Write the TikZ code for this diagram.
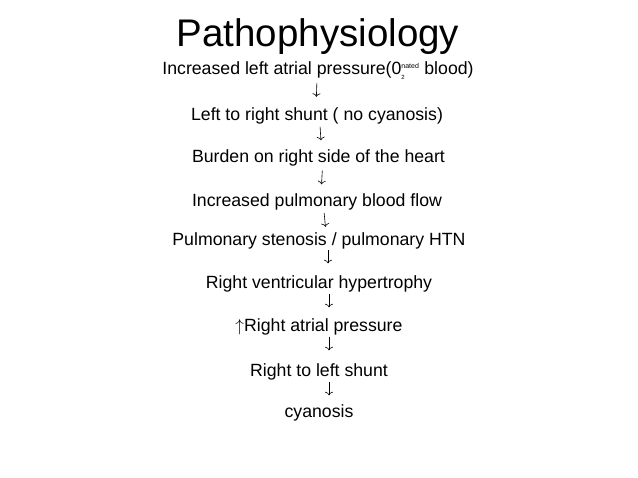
\documentclass[tikz,border=0pt]{standalone}
\usepackage{fontspec}
\setmainfont{Liberation Sans}
\usetikzlibrary{arrows.meta}
\begin{document}
\begin{tikzpicture}[x=1pt,y=1pt,
  line/.style={anchor=base, inner sep=0pt, font=\fontsize{17.7}{20}\selectfont, text height=13pt, text depth=4pt},
  titletext/.style={anchor=base, inner sep=0pt, font=\fontsize{38.5}{40}\selectfont},
  arr/.style={draw=black, line width=0.6pt, -{To[length=3.5pt,width=8pt]}}]
\useasboundingbox (0,0) rectangle (638,-478);
\node[titletext] (title) at (318,-46.5) {Pathophysiology};
\node[line] (l1) at (318,-75) {Increased left atrial pressure(0$_{\mbox{\fontsize{6}{6}\selectfont 2}}^{\mbox{\fontsize{7}{7}\selectfont nated}}$ blood)};
\node[line] (l2) at (317,-121) {Left to right shunt ( no cyanosis)};
\node[line] (l3) at (318.5,-163) {Burden on right side of the heart};
\node[line] (l4) at (317,-207) {Increased pulmonary blood flow};
\node[line] (l5) at (319,-246) {Pulmonary stenosis / pulmonary HTN};
\node[line] (l6) at (319,-289) {Right ventricular hypertrophy};
\node[line] (l7) at (319,-332) {$\uparrow$Right atrial pressure};
\node[line] (l8) at (319,-377) {Right to left shunt};
\node[line] (l9) at (319,-418) {cyanosis};
\draw[arr, shorten <=4pt, shorten >=11pt] ([xshift=-1pt]l1.south) -- ([xshift=-1pt]l2.north);
\draw[arr, shorten <=1.5pt, shorten >=9.5pt] ([xshift=3pt]l2.south) -- ([xshift=3pt]l3.north);
\draw[arr, shorten <=3.5pt, shorten >=9.5pt] ([xshift=4pt]l3.south) -- ([xshift=4pt]l4.north);
\draw[arr, shorten <=2pt, shorten >=6pt] ([xshift=7pt]l4.south) -- ([xshift=7pt]l5.north);
\draw[arr, shorten <=0pt, shorten >=12.5pt] ([xshift=9pt]l5.south) -- ([xshift=9pt]l6.north);
\draw[arr, shorten <=0.5pt, shorten >=11.5pt] ([xshift=10pt]l6.south) -- ([xshift=10pt]l7.north);
\draw[arr, shorten <=0.5pt, shorten >=13.5pt] ([xshift=10pt]l7.south) -- ([xshift=10pt]l8.north);
\draw[arr, shorten <=0.5pt, shorten >=9.5pt] ([xshift=10pt]l8.south) -- ([xshift=10pt]l9.north);
\end{tikzpicture}
\end{document}
